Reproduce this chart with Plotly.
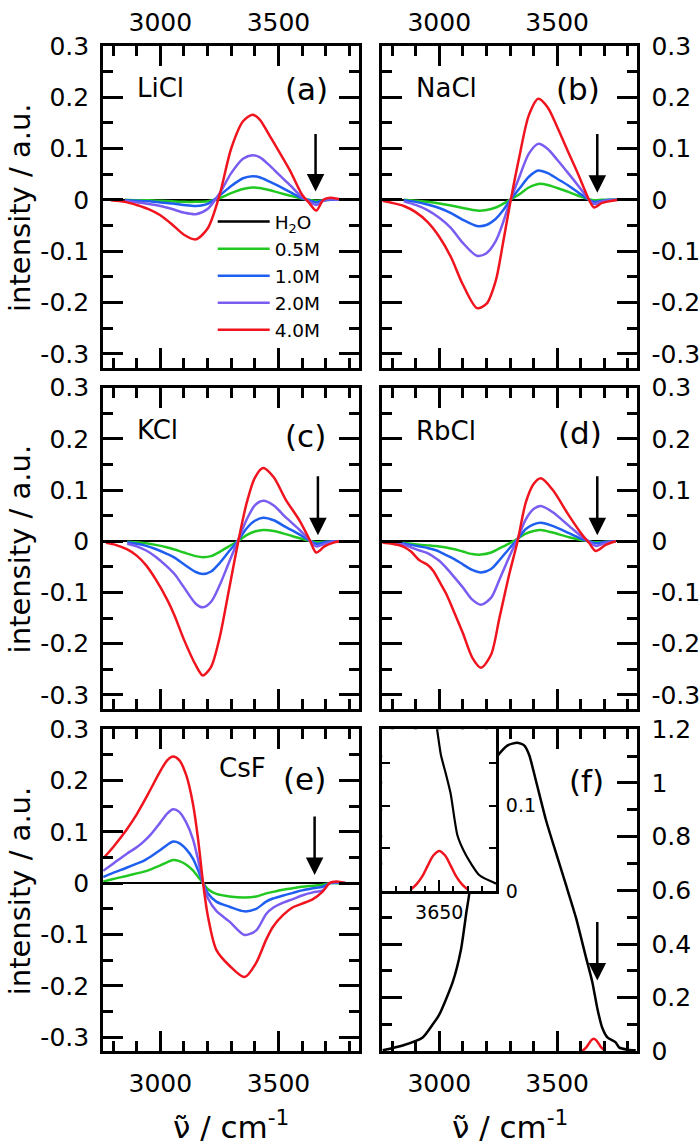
import plotly.graph_objects as go

W, H = 700, 1148

# ---------------- data ----------------
conc_labels = ["0.5M", "1.0M", "2.0M", "4.0M"]
conc_colors = ["#22c822", "#1f5ff0", "#7a5cf0", "#f0141e"]

# (a) LiCl
wn_a = [2790, 2850, 2900, 2950, 3000, 3050, 3100, 3150, 3200, 3250, 3300, 3350, 3390, 3420, 3460, 3500, 3550, 3600, 3630, 3660, 3690, 3720, 3760]
licl_05 = [None, 0.000, -0.001, -0.001, -0.002, -0.003, -0.004, -0.004, -0.003, 0.003, 0.013, 0.021, 0.024, 0.023, 0.019, 0.014, 0.008, 0.002, 0.000, -0.002, -0.001, 0.000, 0.000]
licl_10 = [None, -0.001, -0.002, -0.003, -0.005, -0.007, -0.010, -0.012, -0.008, 0.008, 0.027, 0.042, 0.046, 0.044, 0.036, 0.027, 0.015, 0.003, -0.001, -0.005, -0.001, 0.000, 0.000]
licl_20 = [None, -0.002, -0.005, -0.008, -0.012, -0.018, -0.025, -0.028, -0.018, 0.012, 0.052, 0.080, 0.087, 0.083, 0.068, 0.050, 0.028, 0.005, -0.003, -0.010, -0.002, 0.001, 0.000]
licl_40 = [-0.001, -0.004, -0.010, -0.018, -0.030, -0.048, -0.068, -0.077, -0.056, 0.008, 0.100, 0.153, 0.166, 0.157, 0.127, 0.096, 0.056, 0.010, -0.006, -0.021, 0.000, 0.004, 0.001]

# (b) NaCl
wn_b = [2760, 2800, 2850, 2900, 2950, 3000, 3050, 3100, 3160, 3200, 3240, 3270, 3300, 3340, 3380, 3420, 3460, 3500, 3550, 3590, 3635, 3656, 3690, 3720, 3760]
nacl_05 = [None, None, 0.000, -0.002, -0.004, -0.007, -0.011, -0.016, -0.021, -0.020, -0.015, -0.008, 0.000, 0.011, 0.024, 0.031, 0.029, 0.023, 0.015, 0.008, 0.001, -0.001, 0.000, 0.000, 0.000]
nacl_10 = [None, None, -0.001, -0.004, -0.009, -0.016, -0.026, -0.039, -0.051, -0.049, -0.037, -0.021, -0.001, 0.022, 0.045, 0.057, 0.052, 0.041, 0.027, 0.014, 0.000, -0.004, -0.002, 0.000, 0.000]
nacl_20 = [None, None, -0.003, -0.010, -0.020, -0.035, -0.055, -0.084, -0.109, -0.104, -0.080, -0.045, -0.003, 0.045, 0.090, 0.109, 0.099, 0.078, 0.050, 0.027, 0.000, -0.008, -0.003, -0.001, 0.000]
nacl_40 = [-0.002, -0.006, -0.012, -0.024, -0.043, -0.072, -0.112, -0.165, -0.211, -0.203, -0.157, -0.085, -0.008, 0.085, 0.165, 0.197, 0.180, 0.142, 0.090, 0.049, 0.000, -0.015, -0.006, -0.003, 0.000]

# (c) KCl
wn_c = [2770, 2810, 2860, 2900, 2940, 2980, 3030, 3060, 3100, 3150, 3180, 3215, 3250, 3290, 3330, 3365, 3400, 3435, 3480, 3530, 3590, 3632, 3660, 3695, 3730, 3760]
kcl_05 = [None, None, -0.001, -0.002, -0.004, -0.007, -0.012, -0.016, -0.022, -0.029, -0.031, -0.029, -0.021, -0.010, 0.001, 0.012, 0.019, 0.022, 0.020, 0.014, 0.006, 0.001, -0.002, -0.001, 0.000, 0.000]
kcl_10 = [None, None, -0.002, -0.005, -0.009, -0.015, -0.025, -0.032, -0.045, -0.060, -0.064, -0.059, -0.043, -0.020, 0.002, 0.025, 0.040, 0.046, 0.041, 0.028, 0.013, 0.001, -0.005, -0.002, 0.000, 0.000]
kcl_20 = [None, None, -0.005, -0.010, -0.018, -0.030, -0.050, -0.064, -0.090, -0.122, -0.129, -0.118, -0.087, -0.042, 0.003, 0.042, 0.070, 0.079, 0.070, 0.047, 0.022, 0.002, -0.010, -0.005, -0.001, 0.000]
kcl_40 = [-0.003, -0.007, -0.016, -0.028, -0.047, -0.074, -0.115, -0.145, -0.192, -0.242, -0.262, -0.245, -0.190, -0.096, 0.000, 0.074, 0.124, 0.143, 0.125, 0.082, 0.040, 0.003, -0.022, -0.010, -0.003, 0.000]

# (d) RbCl
wn_d = [2760, 2800, 2845, 2880, 2916, 2950, 2975, 3000, 3030, 3060, 3100, 3140, 3177, 3220, 3255, 3297, 3332, 3367, 3400, 3431, 3480, 3550, 3607, 3635, 3663, 3706, 3748]
rbcl_05 = [None, None, -0.003, -0.005, -0.007, -0.008, -0.009, -0.010, -0.012, -0.015, -0.020, -0.025, -0.026, -0.022, -0.014, -0.004, 0.005, 0.015, 0.020, 0.022, 0.017, 0.008, 0.002, 0.000, -0.002, -0.001, 0.000]
rbcl_10 = [-0.001, -0.002, -0.004, -0.007, -0.010, -0.013, -0.016, -0.020, -0.027, -0.034, -0.045, -0.056, -0.061, -0.054, -0.037, -0.014, 0.004, 0.024, 0.033, 0.036, 0.030, 0.016, 0.004, 0.000, -0.004, -0.001, 0.000]
rbcl_20 = [-0.002, -0.003, -0.006, -0.012, -0.018, -0.023, -0.030, -0.038, -0.052, -0.068, -0.090, -0.114, -0.124, -0.110, -0.075, -0.030, 0.005, 0.043, 0.063, 0.069, 0.057, 0.030, 0.008, 0.000, -0.009, -0.003, 0.000]
rbcl_40 = [-0.003, -0.005, -0.010, -0.020, -0.037, -0.046, -0.058, -0.078, -0.103, -0.135, -0.179, -0.227, -0.247, -0.221, -0.150, -0.064, 0.000, 0.076, 0.112, 0.123, 0.101, 0.050, 0.012, -0.003, -0.019, -0.007, 0.000]

# (e) CsF
wn_e = [2758, 2800, 2857, 2900, 2927, 2960, 2998, 3030, 3054, 3080, 3110, 3138, 3160, 3181, 3202, 3237, 3293, 3357, 3406, 3448, 3477, 3520, 3561, 3600, 3646, 3688, 3716, 3745, 3787]
csf_05 = [0.003, 0.008, 0.014, 0.019, 0.022, 0.027, 0.034, 0.041, 0.045, 0.043, 0.036, 0.025, 0.012, 0.000, -0.012, -0.021, -0.026, -0.028, -0.026, -0.020, -0.017, -0.013, -0.010, -0.007, -0.005, -0.003, 0.000, 0.000, 0.000]
csf_10 = [0.012, 0.020, 0.030, 0.038, 0.043, 0.052, 0.064, 0.075, 0.081, 0.078, 0.066, 0.048, 0.025, 0.000, -0.020, -0.036, -0.046, -0.055, -0.050, -0.036, -0.030, -0.024, -0.019, -0.014, -0.010, -0.007, 0.000, 0.001, 0.000]
csf_20 = [0.024, 0.038, 0.057, 0.070, 0.080, 0.095, 0.117, 0.136, 0.144, 0.139, 0.118, 0.086, 0.045, 0.000, -0.030, -0.054, -0.075, -0.101, -0.092, -0.060, -0.048, -0.038, -0.031, -0.024, -0.018, -0.014, 0.000, 0.002, 0.000]
csf_40 = [0.048, 0.070, 0.104, 0.134, 0.156, 0.184, 0.217, 0.240, 0.247, 0.240, 0.210, 0.155, 0.085, 0.000, -0.066, -0.130, -0.161, -0.183, -0.155, -0.110, -0.085, -0.062, -0.047, -0.040, -0.031, -0.016, 0.000, 0.003, 0.000]

# (f) pure water spectrum and free-OH band
wn_f = [2760, 2845, 2930, 2972, 3000, 3057, 3092, 3116, 3127, 3160, 3200, 3247, 3290, 3330, 3360, 3381, 3410, 3452, 3494, 3537, 3579, 3621, 3649, 3670, 3691, 3713, 3748, 3762, 3800, 3833]
h2o_f = [0.004, 0.022, 0.052, 0.100, 0.137, 0.258, 0.379, 0.524, 0.585, 0.800, 0.980, 1.100, 1.140, 1.150, 1.140, 1.105, 1.008, 0.863, 0.742, 0.621, 0.500, 0.354, 0.258, 0.161, 0.088, 0.052, 0.034, 0.015, 0.006, 0.004]
wn_free = [3605, 3615, 3625, 3635, 3645, 3655, 3665, 3675, 3685, 3695, 3705]
free_oh = [0.002, 0.008, 0.017, 0.030, 0.042, 0.047, 0.042, 0.030, 0.017, 0.008, 0.002]

# inset of (f)
wn_inset_h2o = [3636, 3646, 3653, 3662, 3670, 3682, 3697, 3720, 3746, 3750]
inset_h2o = [0.230, 0.190, 0.159, 0.136, 0.114, 0.065, 0.042, 0.019, 0.010, 0.009]
wn_inset_free = [3600, 3610, 3620, 3630, 3640, 3650, 3660, 3670, 3680, 3690, 3700]
inset_free = [0.002, 0.008, 0.017, 0.030, 0.042, 0.047, 0.042, 0.030, 0.017, 0.008, 0.002]

# arrows marking the free-OH band
arrow_wn = [3657, 3670, 3667, 3670, 3653, 3670]
arrow_tail = [0.131, 0.131, 0.130, 0.130, 0.133, 0.488]
arrow_tip = [0.016, 0.014, 0.012, 0.012, 0.016, 0.264]

salt_names = ["LiCl", "NaCl", "KCl", "RbCl", "CsF"]
panel_letters = ["(a)", "(b)", "(c)", "(d)", "(e)", "(f)"]

x_tickvals = [3000, 3500]
x_ticktext = ["3000", "3500"]
y_tickvals = [-0.3, -0.2, -0.1, 0, 0.1, 0.2, 0.3]
y_ticktext = ["-0.3", "-0.2", "-0.1", "0", "0.1", "0.2", "0.3"]
yf_tickvals = [0, 0.2, 0.4, 0.6, 0.8, 1.0, 1.2]
yf_ticktext = ["0", "0.2", "0.4", "0.6", "0.8", "1", "1.2"]

panels = [
    (wn_a, [licl_05, licl_10, licl_20, licl_40]),
    (wn_b, [nacl_05, nacl_10, nacl_20, nacl_40]),
    (wn_c, [kcl_05, kcl_10, kcl_20, kcl_40]),
    (wn_d, [rbcl_05, rbcl_10, rbcl_20, rbcl_40]),
    (wn_e, [csf_05, csf_10, csf_20, csf_40]),
]

# ---------------- layout geometry ----------------
def px_x(a, b):
    return [a / W, b / W]

def px_y(top, bottom):
    return [1 - bottom / H, 1 - top / H]

col_dom = [px_x(103.3, 359.3), px_x(382.7, 638.3)]
row_dom = [px_y(32.7, 363.3), px_y(383.3, 713.3), px_y(733.8, 1064.3)]
inset_xdom = px_x(382.7, 497.0)
inset_ydom = px_y(733.8, 900.0)

FONT = "DejaVu Sans"
XR = [2758, 3840]
YR = [-0.328, 0.3]
TICK_SIZE = 25

fig = go.Figure()

for i, (wn, series) in enumerate(panels):
    sfx = "" if i == 0 else str(i + 1)
    for k, (lab, vals, col) in enumerate(zip(conc_labels, series, conc_colors)):
        fig.add_trace(go.Scatter(
            x=wn, y=vals, mode="lines", name=lab,
            line=dict(color=col, width=2.5, shape="spline", smoothing=0.8),
            xaxis="x" + sfx, yaxis="y" + sfx,
            showlegend=(i == 0), legendrank=k + 2, hoverinfo="skip"))

fig.add_trace(go.Scatter(x=wn_f, y=h2o_f, mode="lines", name="H<sub>2</sub>O",
                         line=dict(color="black", width=2.5, shape="spline", smoothing=0.6),
                         xaxis="x6", yaxis="y6", showlegend=True, legendrank=1))
fig.add_trace(go.Scatter(x=wn_free, y=free_oh, mode="lines", showlegend=False,
                         line=dict(color=conc_colors[3], width=2.5, shape="spline"),
                         xaxis="x6", yaxis="y6"))
fig.add_trace(go.Scatter(x=wn_inset_h2o, y=inset_h2o, mode="lines", showlegend=False,
                         line=dict(color="black", width=2.2, shape="spline", smoothing=0.6),
                         xaxis="x7", yaxis="y7"))
fig.add_trace(go.Scatter(x=wn_inset_free, y=inset_free, mode="lines", showlegend=False,
                         line=dict(color=conc_colors[3], width=2.5, shape="spline"),
                         xaxis="x7", yaxis="y7"))

layout = dict(
    width=W, height=H, autosize=False,
    margin=dict(l=0, r=0, t=0, b=0),
    paper_bgcolor="white", plot_bgcolor="white",
    font=dict(family=FONT, color="black", size=TICK_SIZE),
    showlegend=True,
    legend=dict(x=213 / W, y=1 - 194 / H, xanchor="left", yanchor="top",
                bgcolor="rgba(0,0,0,0)", font=dict(size=18.5, family=FONT),
                traceorder="normal", itemwidth=52, tracegroupgap=0),
)

axis_common = dict(showline=True, linewidth=3, linecolor="black", mirror="allticks",
                   ticks="inside", tickwidth=2.5, tickcolor="black", showgrid=False,
                   tickfont=dict(size=TICK_SIZE, family=FONT))

for i in range(6):
    r, c = divmod(i, 2)
    sfx = "" if i == 0 else str(i + 1)
    xa = dict(axis_common, domain=col_dom[c], anchor="y" + sfx, range=XR,
              tickmode="array", tickvals=x_tickvals, ticktext=x_ticktext, ticklen=20,
              minor=dict(tick0=2800, dtick=100, ticks="inside", ticklen=10, tickwidth=2.5, tickcolor="black"),
              zeroline=False)
    if r == 0:
        xa.update(side="top", showticklabels=True, ticklabelstandoff=2)
    elif r == 1:
        xa.update(side="bottom", showticklabels=False)
    else:
        xa.update(side="bottom", showticklabels=True, ticklabelstandoff=8)
    if i < 5:
        ya = dict(axis_common, domain=row_dom[r], anchor="x" + sfx, range=YR,
                  tickmode="array", tickvals=y_tickvals, ticktext=y_ticktext, ticklen=20,
                  minor=dict(tick0=0, dtick=0.05, ticks="inside", ticklen=10, tickwidth=2.5, tickcolor="black"),
                  zeroline=True, zerolinecolor="black", zerolinewidth=2,
                  side="left" if c == 0 else "right", ticklabelstandoff=6)
    else:
        ya = dict(axis_common, domain=row_dom[r], anchor="x" + sfx, range=[0, 1.2],
                  tickmode="array", tickvals=yf_tickvals, ticktext=yf_ticktext, ticklen=20,
                  minor=dict(tick0=0, dtick=0.1, ticks="inside", ticklen=10, tickwidth=2.5, tickcolor="black"),
                  zeroline=False, side="right", ticklabelstandoff=6)
    layout["xaxis" + sfx] = xa
    layout["yaxis" + sfx] = ya

# inset axes
layout["xaxis7"] = dict(domain=inset_xdom, anchor="y7", range=[3550, 3750],
                        showline=True, linewidth=2.5, linecolor="black", mirror=True,
                        ticks="inside", tickmode="array", tickvals=[3650], ticktext=["3650"],
                        ticklen=12, tickwidth=2, tickcolor="black", showgrid=False, zeroline=False,
                        minor=dict(tick0=3550, dtick=25, ticks="inside", ticklen=6, tickwidth=2, tickcolor="black"),
                        tickfont=dict(size=19, family=FONT), ticklabelstandoff=2)
layout["yaxis7"] = dict(domain=inset_ydom, anchor="x7", range=[0, 0.189], side="right",
                        showline=True, linewidth=2.5, linecolor="black", mirror="allticks",
                        ticks="inside", tickmode="array", tickvals=[0, 0.1], ticktext=["0", "0.1"],
                        ticklen=8, tickwidth=2, tickcolor="black", showgrid=False, zeroline=False,
                        minor=dict(tick0=0, dtick=0.05, ticks="inside", ticklen=8, tickwidth=2, tickcolor="black"),
                        tickfont=dict(size=19, family=FONT), ticklabelstandoff=3)

fig.update_layout(**layout)

# white background for the inset so it hides the main curve underneath
fig.add_shape(type="rect", xref="x7 domain", yref="y7 domain", x0=0, x1=1, y0=0, y1=1,
              fillcolor="white", line_width=0, layer="below")

annotations = []
# y titles
for r in range(3):
    yc = (row_dom[r][0] + row_dom[r][1]) / 2
    annotations.append(dict(xref="paper", yref="paper", x=20 / W, y=yc, text="intensity / a.u.",
                            textangle=-90, showarrow=False, font=dict(size=29, family=FONT),
                            xanchor="center", yanchor="middle"))
# x titles
for c in range(2):
    xc = (col_dom[c][0] + col_dom[c][1]) / 2
    annotations.append(dict(xref="paper", yref="paper", x=xc, y=1 - 1140 / H,
                            text="ν̃ / cm<sup>-1</sup>", showarrow=False,
                            font=dict(size=31, family=FONT), xanchor="center", yanchor="middle"))

salt_pos = [(0.124, 0.869), (0.126, 0.869), (0.124, 0.868), (0.126, 0.866), (0.444, 0.881)]
letter_pos = [(0.886, 0.865), (0.863, 0.865), (0.878, 0.850), (0.870, 0.859), (0.878, 0.845), (0.877, 0.838)]
for i in range(6):
    sfx = "" if i == 0 else str(i + 1)
    if i < 5:
        annotations.append(dict(xref="x" + sfx + " domain", yref="y" + sfx + " domain",
                                x=salt_pos[i][0], y=salt_pos[i][1], text=salt_names[i],
                                showarrow=False, xanchor="left", yanchor="middle",
                                font=dict(size=26, family=FONT)))
    annotations.append(dict(xref="x" + sfx + " domain", yref="y" + sfx + " domain",
                            x=letter_pos[i][0], y=letter_pos[i][1], text=panel_letters[i],
                            showarrow=False, xanchor="right", yanchor="middle",
                            font=dict(size=31, family=FONT)))
    annotations.append(dict(xref="x" + sfx, yref="y" + sfx, x=arrow_wn[i], y=arrow_tip[i],
                            axref="x" + sfx, ayref="y" + sfx, ax=arrow_wn[i], ay=arrow_tail[i],
                            text="", showarrow=True, arrowhead=2, arrowsize=1.4, arrowwidth=2.5,
                            arrowcolor="black", standoff=0))

fig.update_layout(annotations=annotations)

fig.write_html("out.html")
